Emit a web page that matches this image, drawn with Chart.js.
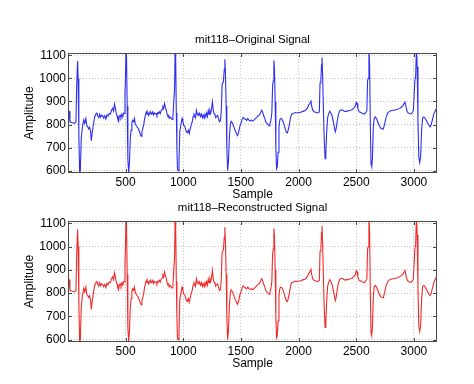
<!DOCTYPE html>
<html>
<head>
<meta charset="utf-8">
<script src="https://cdn.jsdelivr.net/npm/chart.js@4.4.1/dist/chart.umd.min.js"></script>
<style>
  html, body { margin: 0; padding: 0; background: #fff; }
  #wrap { position: relative; width: 474px; height: 384px; }
  canvas { position: absolute; left: 0; top: 0; }
</style>
</head>
<body>
<div id="wrap">
  <canvas id="top" width="474" height="384"></canvas>
  <canvas id="bottom" width="474" height="384"></canvas>
</div>
<script>
// sample index and amplitude
var samples = [
  1, 10, 18, 40, 60, 70, 76, 84, 89, 95, 102, 108, 116, 126, 138, 146, 156, 164, 172, 180,
  188, 196, 203, 210, 220, 232, 243, 252, 260, 268, 276, 284, 292, 301, 310, 320, 330, 339, 348, 358,
  368, 378, 388, 396, 404, 411, 418, 426, 434, 440, 446, 453, 460, 468, 476, 483, 490, 495, 499, 504,
  508, 514, 520, 527, 534, 541, 548, 555, 562, 570, 577, 584, 591, 600, 610, 620, 628, 635, 642, 650,
  658, 665, 672, 680, 687, 694, 701, 708, 715, 722, 729, 736, 743, 750, 758, 765, 772, 780, 787, 794,
  801, 808, 816, 823, 830, 838, 845, 853, 860, 867, 875, 882, 889, 896, 903, 910, 918, 925, 930, 934,
  940, 945, 950, 956, 963, 970, 976, 984, 990, 997, 1005, 1015, 1027, 1036, 1044, 1052, 1060, 1070, 1078, 1085,
  1093, 1100, 1107, 1114, 1122, 1130, 1138, 1145, 1152, 1160, 1167, 1174, 1182, 1189, 1196, 1203, 1210, 1217, 1224, 1231,
  1238, 1246, 1253, 1260, 1267, 1275, 1282, 1290, 1298, 1306, 1314, 1323, 1330, 1337, 1348, 1356, 1361, 1366, 1372, 1378,
  1385, 1392, 1400, 1408, 1415, 1424, 1432, 1442, 1452, 1462, 1470, 1480, 1490, 1500, 1510, 1520, 1530, 1541, 1550, 1560,
  1570, 1580, 1590, 1600, 1612, 1625, 1640, 1650, 1660, 1670, 1680, 1688, 1696, 1705, 1715, 1725, 1735, 1744, 1752, 1760,
  1768, 1775, 1781, 1786, 1791, 1797, 1803, 1809, 1815, 1822, 1830, 1838, 1846, 1854, 1864, 1874, 1885, 1895, 1903, 1912,
  1920, 1930, 1940, 1955, 1970, 1985, 2000, 2015, 2030, 2045, 2060, 2075, 2086, 2096, 2107, 2114, 2122, 2135, 2150, 2165,
  2180, 2186, 2193, 2199, 2203, 2208, 2215, 2222, 2230, 2236, 2243, 2252, 2260, 2270, 2280, 2290, 2300, 2310, 2318, 2325,
  2335, 2346, 2360, 2375, 2390, 2405, 2420, 2435, 2450, 2465, 2480, 2492, 2500, 2507, 2514, 2525, 2540, 2555, 2570, 2580,
  2592, 2598, 2604, 2610, 2616, 2622, 2628, 2634, 2640, 2648, 2656, 2665, 2675, 2688, 2700, 2712, 2722, 2734, 2745, 2758,
  2772, 2786, 2800, 2815, 2830, 2845, 2860, 2875, 2890, 2905, 2915, 2922, 2930, 2940, 2950, 2962, 2975, 2985, 2995, 3008,
  3015, 3022, 3028, 3035, 3042, 3050, 3058, 3066, 3075, 3085, 3095, 3110, 3125, 3140, 3150, 3160, 3172, 3185, 3200
];
var origValues = [
  862, 858, 812, 808, 805, 812, 960, 1075, 1000, 760, 590, 600, 740, 790, 820, 805, 826, 795, 790, 781,
  788, 772, 730, 762, 796, 833, 845, 850, 836, 830, 845, 832, 840, 838, 828, 838, 824, 842, 836, 848,
  845, 862, 870, 858, 888, 872, 852, 838, 822, 816, 835, 840, 830, 845, 833, 850, 848, 930, 992, 1130,
  1110, 880, 650, 588, 640, 740, 776, 810, 819, 812, 826, 805, 797, 790, 783, 770, 758, 750, 770, 783,
  800, 826, 840, 855, 845, 852, 840, 848, 856, 845, 850, 855, 842, 850, 846, 848, 840, 852, 848, 855,
  848, 860, 865, 877, 870, 891, 875, 862, 845, 836, 838, 828, 832, 826, 822, 830, 900, 956, 1130, 1110,
  850, 700, 608, 600, 632, 770, 788, 812, 826, 812, 796, 790, 768, 765, 776, 761, 780, 800, 812, 833,
  845, 840, 830, 862, 845, 840, 850, 840, 835, 845, 830, 840, 828, 845, 838, 850, 835, 860, 845, 862,
  850, 870, 898, 862, 848, 842, 830, 836, 840, 826, 812, 817, 860, 975, 985, 1040, 1083, 1020, 880, 700,
  600, 640, 745, 800, 814, 808, 800, 785, 772, 760, 752, 765, 790, 805, 822, 831, 826, 822, 818, 826,
  818, 815, 820, 815, 818, 826, 832, 838, 842, 850, 862, 855, 840, 830, 812, 805, 800, 795, 805, 818,
  850, 970, 990, 1078, 1040, 900, 700, 608, 615, 680, 790, 822, 826, 824, 815, 800, 780, 766, 764, 780,
  800, 830, 845, 848, 852, 850, 852, 852, 856, 858, 862, 870, 883, 890, 901, 880, 862, 855, 852, 850,
  855, 980, 990, 1060, 1090, 1020, 870, 740, 652, 670, 760, 830, 845, 858, 850, 838, 815, 790, 768, 780,
  815, 845, 862, 864, 860, 856, 858, 860, 862, 865, 872, 880, 897, 892, 870, 855, 852, 848, 845, 850,
  860, 990, 1000, 1140, 1050, 800, 630, 618, 650, 790, 828, 833, 826, 810, 795, 785, 782, 780, 800, 830,
  850, 856, 860, 862, 862, 865, 866, 870, 875, 882, 892, 900, 880, 858, 850, 848, 846, 852, 860, 990,
  1010, 1140, 1050, 820, 660, 635, 660, 770, 828, 833, 828, 815, 800, 790, 800, 820, 845, 860, 873
];
// the reconstruction is visually identical to the original
var reconValues = origValues.slice();

var xTicks = [500, 1000, 1500, 2000, 2500, 3000];
var yTicks = [600, 700, 800, 900, 1000, 1100];

var font = "'Liberation Sans', Arial, sans-serif";

function toPoints(vals) {
  return samples.map(function(s, i) { return {x: s, y: vals[i]}; });
}

// MATLAB style box with inward ticks, title centred over the axes
var framePlugin = {
  id: "frame",
  afterDraw: function(chart, args, opts) {
    var ctx = chart.ctx, a = chart.chartArea, sx = chart.scales.x, sy = chart.scales.y;
    ctx.save();
    ctx.strokeStyle = "#4a4a4a";
    ctx.lineWidth = 1;
    ctx.strokeRect(Math.round(a.left) + 0.5, Math.round(a.top) + 0.5,
      Math.round(a.right - a.left) - 1, Math.round(a.bottom - a.top) - 1);
    ctx.beginPath();
    xTicks.forEach(function(v) {
      var p = Math.round(sx.getPixelForValue(v)) + 0.5;
      ctx.moveTo(p, a.bottom); ctx.lineTo(p, a.bottom - 4);
      ctx.moveTo(p, a.top); ctx.lineTo(p, a.top + 4);
    });
    yTicks.forEach(function(v) {
      var p = Math.round(sy.getPixelForValue(v)) + 0.5;
      ctx.moveTo(a.left, p); ctx.lineTo(a.left + 4, p);
      ctx.moveTo(a.right, p); ctx.lineTo(a.right - 4, p);
    });
    ctx.stroke();

    ctx.fillStyle = "#000";
    ctx.font = "11.5px " + font;
    ctx.textAlign = "center";
    ctx.textBaseline = "middle";
    ctx.fillText(opts.text, (a.left + a.right) / 2, a.top - 13);
    ctx.restore();
  }
};

function plain(v) { return String(v); }

function makeChart(id, title, vals, color, pad, xHeight) {
  var ctx = document.getElementById(id).getContext("2d");
  return new Chart(ctx, {
    type: "line",
    data: {
      datasets: [{
        label: title,
        data: toPoints(vals),
        borderColor: color,
        borderWidth: 1.1,
        pointRadius: 0,
        tension: 0,
        fill: false
      }]
    },
    options: {
      responsive: false,
      animation: false,
      devicePixelRatio: 1,
      layout: { padding: pad },
      plugins: {
        legend: { display: false },
        tooltip: { enabled: false },
        title: { display: false },
        frame: { text: title }
      },
      scales: {
        x: {
          type: "linear",
          min: 1,
          max: 3200,
          afterBuildTicks: function(s) { s.ticks = xTicks.map(function(v) { return {value: v}; }); },
          afterFit: function(s) { s.height = xHeight; },
          grid: { color: "#c4c4c4", drawTicks: false },
          border: { display: false, dash: [1, 2] },
          ticks: { color: "#000", padding: 2, maxRotation: 0, callback: plain, font: { family: font, size: 12 } },
          title: { display: true, text: "Sample", color: "#000", padding: 0, font: { family: font, size: 12 } }
        },
        y: {
          min: 590,
          max: 1110,
          afterBuildTicks: function(s) { s.ticks = yTicks.map(function(v) { return {value: v}; }); },
          afterFit: function(s) { s.width = 48; },
          grid: { color: "#c4c4c4", drawTicks: false },
          border: { display: false, dash: [1, 2] },
          ticks: { color: "#000", padding: 2, callback: plain, font: { family: font, size: 12 } },
          title: { display: true, text: "Amplitude", color: "#000", padding: { top: 2, bottom: 0 }, font: { family: font, size: 12 } }
        }
      }
    },
    plugins: [framePlugin]
  });
}

makeChart("top", "mit118\u2013Original Signal", origValues, "#2e2ef0",
  { top: 53, left: 20, right: 37, bottom: 182 }, 29);
makeChart("bottom", "mit118\u2013Reconstructed Signal", reconValues, "#f02a2a",
  { top: 221, left: 20, right: 37, bottom: 13 }, 29);
</script>
</body>
</html>
